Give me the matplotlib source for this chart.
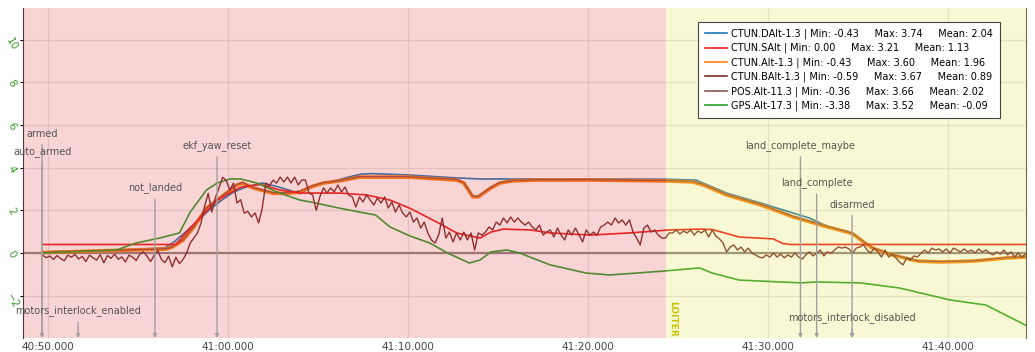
import numpy as np
import matplotlib
matplotlib.use('Agg')
import matplotlib.pyplot as plt
import matplotlib.transforms as mtransforms
from matplotlib.lines import Line2D
from matplotlib.ticker import FuncFormatter, MultipleLocator

# time axis is seconds after 40:50.000
start_sec = 40 * 60 + 50
t_min, t_max = -1.39, 54.33

# flight mode bands
mode_names = ['', 'LOITER']
mode_starts = [t_min, 34.33]
mode_ends = [34.33, t_max]

# events
event_names = ['armed', 'auto_armed', 'motors_interlock_enabled', 'not_landed', 'ekf_yaw_reset',
               'land_complete_maybe', 'land_complete', 'disarmed', 'motors_interlock_disabled']
event_times = [-0.33, -0.33, 1.67, 5.94, 9.39, 41.8, 42.7, 44.67, 44.67]

# CTUN.DAlt
dalt_t = [-0.3, 2, 5, 6.5, 7.0, 7.6, 8.3, 9.0, 9.6, 10.3, 11.0, 11.9, 12.8, 14.0, 14.9, 16.0, 16.7,
          17.4, 18.0, 20.0, 22.7, 24.0, 34.3, 36.0, 37.7, 39.6, 41.4, 42.3, 43.3, 44.4, 44.7, 45.3,
          45.8, 46.9, 48.3, 49.6, 51.4, 53.3, 54.3]
dalt_v = [0.05, 0.1, 0.17, 0.25, 0.52, 0.95, 1.5, 2.05, 2.45, 2.85, 3.1, 3.28, 3.1, 2.78, 3.19, 3.4, 3.56,
          3.70, 3.72, 3.66, 3.52, 3.47, 3.46, 3.42, 2.81, 2.34, 1.87, 1.64, 1.25, 0.98, 0.9, 0.52,
          0.23, -0.09, -0.38, -0.43, -0.38, -0.23, -0.19]

# CTUN.SAlt
salt_t = [-0.3, 7.1, 7.9, 9.4, 10.7, 11.8, 12.9, 14.0, 16.2, 17.7, 19.0, 20.1, 21.6, 22.7, 24.0,
          24.6, 25.3, 26.8, 27.9, 30.1, 32.3, 34.5, 36.2, 36.9, 38.4, 40.3, 40.8, 41.2, 54.3]
salt_v = [0.40, 0.40, 1.17, 2.48, 3.09, 3.21, 2.95, 2.81, 2.81, 2.72, 2.48, 2.10, 1.45, 0.94, 0.70,
          0.98, 1.12, 1.08, 0.94, 0.84, 0.94, 1.08, 1.12, 1.10, 0.75, 0.66, 0.45, 0.40, 0.40]

# CTUN.Alt
alt_t = [-0.3, 2, 5, 6.6, 6.9, 7.5, 8.1, 8.8, 9.4, 9.9, 10.5, 10.8, 11.4, 12.5, 13.3, 14.0, 14.6,
         15.3, 16.2, 17.3, 20.0, 22.7, 23.1, 23.6, 23.9, 24.6, 25.1, 25.8, 27.2, 30, 34.3, 35.8,
         36.4, 37.7, 39.6, 41.4, 43.3, 44.4, 44.7, 45.3, 45.8, 46.9, 48.3, 49.6, 51.4, 53.3, 54.3]
alt_v = [0.02, 0.08, 0.15, 0.19, 0.28, 0.6, 1.22, 2.1, 2.48, 2.8, 3.19, 3.28, 3.05, 2.80, 2.80, 2.86,
         3.1, 3.28, 3.38, 3.56, 3.56, 3.42, 3.28, 2.63, 2.63, 3.05, 3.28, 3.38, 3.42, 3.42, 3.38, 3.33,
         3.19, 2.72, 2.25, 1.69, 1.22, 0.98, 0.90, 0.52, 0.23, -0.09, -0.38, -0.42, -0.38, -0.23, -0.19]

# POS.Alt (same sample times as CTUN.Alt)
pos_v = [0.03, 0.09, 0.16, 0.2, 0.3, 0.62, 1.25, 2.12, 2.5, 2.83, 3.22, 3.3, 3.08, 2.83, 2.83, 2.9,
         3.13, 3.3, 3.4, 3.58, 3.58, 3.45, 3.3, 2.66, 2.66, 3.08, 3.3, 3.4, 3.44, 3.44, 3.4, 3.36,
         3.22, 2.75, 2.28, 1.72, 1.25, 1.0, 0.92, 0.55, 0.25, -0.07, -0.36, -0.4, -0.36, -0.21, -0.17]

# GPS.Alt
gps_t = [-0.3, 3.8, 4.9, 6.2, 7.3, 7.9, 8.8, 9.4, 10.1, 10.7, 11.6, 12.9, 14.0, 14.6, 16.2, 17.3,
         18.2, 19.0, 20.1, 21.2, 22.2, 23.4, 24.0, 24.6, 25.5, 26.2, 27.9, 29.9, 31.2, 32.7, 34.3,
         36.2, 36.9, 38.4, 41.8, 42.7, 45.1, 47.3, 50.1, 52.1, 54.3]
gps_v = [0.0, 0.14, 0.47, 0.70, 0.94, 1.92, 2.95, 3.28, 3.47, 3.47, 3.28, 2.80, 2.48, 2.39, 2.10, 1.92,
         1.78, 1.22, 0.80, 0.47, 0.0, -0.47, -0.33, 0.05, 0.14, 0.0, -0.56, -0.94, -1.03, -0.94, -0.84,
         -0.70, -0.94, -1.27, -1.40, -1.36, -1.40, -1.64, -2.20, -2.44, -3.38]

# CTUN.BAlt, logged every 0.2 s from t = -0.3
balt_t0 = -0.3
balt_dt = 0.2
balt_v = [
    -0.10, -0.22, -0.14, -0.30, -0.12, -0.26, -0.36, -0.10, -0.20, -0.06,
    -0.28, -0.16, -0.40, -0.10, -0.22, -0.33, -0.08, -0.46, -0.12, -0.25,
    -0.05, -0.30, -0.18, -0.42, -0.10, -0.20, -0.35, -0.05, 0.05, -0.15,
    -0.40, -0.10, 0.10, -0.30, -0.45, -0.15, -0.65, -0.20, -0.50,
    -0.30, 0.0, 0.47, 0.7, 0.94, 1.4, 2.2, 2.8, 1.92, 2.6,
    3.05, 3.55, 3.4, 2.95, 3.28, 2.34, 2.5, 1.87, 1.95, 1.69,
    1.88, 1.41, 2.1, 3.28, 3.15, 3.42, 3.28, 3.56, 3.33, 3.56,
    3.28, 3.56, 3.19, 3.42,
    3.42, 2.81, 2.72, 2.0, 2.63, 3.05, 2.81, 3.05, 2.86, 3.19,
    2.86, 3.09, 2.72, 2.63, 2.16, 2.63, 2.39, 2.72, 2.48, 2.25,
    2.58, 2.34, 2.63, 2.11, 2.39, 1.92, 2.25, 1.88, 1.69, 1.92,
    1.45, 1.64, 1.17, 1.45, 0.94, 0.61, 0.47, 0.84, 1.64, 0.70,
    0.98, 0.52, 0.94, 0.61, 0.98, 0.61, 0.94, 0.14, 0.94, 0.84,
    0.98, 1.22, 1.08, 1.45, 1.31, 1.64, 1.41, 1.69, 1.45, 1.64,
    1.45, 1.31, 1.45, 1.22, 1.08, 1.31, 0.84, 0.98, 1.08, 0.75,
    1.17, 0.84, 0.61, 1.08, 0.84, 1.17, 0.84, 0.52, 1.08, 0.84,
    0.98, 0.84, 1.22, 1.31, 1.45, 1.31, 1.64, 1.41, 1.55, 1.31,
    1.55, 0.98, 0.70, 0.38, 1.17, 1.31, 0.98, 1.08, 0.84, 0.70,
    0.70, 0.94,
    0.94, 1.08, 0.89, 1.03, 0.94, 1.08, 0.84, 1.03, 0.94, 1.08,
    0.75, 1.08, 0.80, 0.66, 0.47, 0.05, 0.28, 0.38, 0.14, 0.28,
    0.05, 0.23, 0.0, -0.09, -0.19, -0.23, -0.09, -0.19, 0.0, -0.19,
    -0.05, -0.23, -0.09, -0.19, 0.0, -0.19, -0.28, -0.09, 0.05, -0.14,
    0.0, 0.14, -0.14, 0.05, 0.0, 0.14, 0.28, 0.23, 0.28, 0.19,
    0.0, 0.23, 0.28, 0.38, 0.14, 0.0, 0.23, 0.05, -0.19, 0.14,
    -0.19, -0.05, -0.23, -0.42, -0.56, -0.23, -0.33, -0.14, -0.19, 0.0,
    0.14, 0.0, 0.23, 0.14, 0.19, 0.05, 0.19, 0.0, 0.23, 0.14,
    0.05, 0.19, 0.05, 0.14, 0.0, 0.19, 0.05, 0.14, 0.0, -0.09,
    0.05, -0.05, 0.14, -0.09, 0.05, -0.19, 0.0, -0.19, -0.05,
]
balt_t = balt_t0 + balt_dt * np.arange(len(balt_v))

legend_labels = [
    'CTUN.DAlt-1.3 | Min: -0.43     Max: 3.74     Mean: 2.04',
    'CTUN.SAlt | Min: 0.00     Max: 3.21     Mean: 1.13',
    'CTUN.Alt-1.3 | Min: -0.43     Max: 3.60     Mean: 1.96',
    'CTUN.BAlt-1.3 | Min: -0.59     Max: 3.67     Mean: 0.89',
    'POS.Alt-11.3 | Min: -0.36     Max: 3.66     Mean: 2.02',
    'GPS.Alt-17.3 | Min: -3.38     Max: 3.52     Mean: -0.09',
]
c_dalt, c_salt, c_alt, c_balt, c_pos, c_gps = '#1f77b4', '#ee1c1c', '#ff7f0e', '#7a2c2c', '#8c564b', '#2ca02c'

fig = plt.figure(figsize=(10.35, 3.52), dpi=100)
ax = fig.add_axes([23 / 1035, 14 / 352, 1003 / 1035, 330 / 352])

ax.set_xlim(t_min, t_max)
ax.set_ylim(-3.985, 11.486)

ax.grid(True, color='#e4e4e4', lw=0.9, zorder=0)
ax.set_axisbelow(True)

# zero line with white highlight just above
ax.axhline(0, color='#8c8484', lw=1.6, zorder=1.5)
off = mtransforms.offset_copy(ax.get_yaxis_transform(), fig=fig, x=0, y=2, units='dots')
ax.plot([0, 1], [0, 0], color='white', lw=1.0, transform=off, zorder=1.4)

ax.plot(dalt_t, dalt_v, color=c_dalt, lw=1.2, zorder=2)
ax.plot(alt_t, alt_v, color=c_alt, lw=2.6, zorder=2.1)
ax.plot(alt_t, pos_v, color=c_pos, lw=0.9, zorder=2.2)
ax.plot(salt_t, salt_v, color=c_salt, lw=1.2, zorder=2.3)
ax.plot(gps_t, gps_v, color=c_gps, lw=1.2, zorder=2.4)
ax.plot(balt_t, balt_v, color=c_balt, lw=1.0, zorder=2.5)

# mode shading sits on top of the traces
mode_colors = ['#e03c3c', '#e6e13c']
for s, e, c in zip(mode_starts, mode_ends, mode_colors):
    ax.axvspan(s, e, color=c, alpha=0.22, lw=0, zorder=5)
for name, s in zip(mode_names, mode_starts):
    if name:
        ax.text(s + 0.12, 0.005, name, transform=ax.get_xaxis_transform(), rotation=-90,
                ha='left', va='bottom', fontsize=6.5, fontweight='bold', color='#c8c400', zorder=6)

label_heights = [0.618, 0.564, 0.082, 0.455, 0.582, 0.582, 0.470, 0.403, 0.061]
for name, t, h in zip(event_names, event_times, label_heights):
    ax.annotate(name, xy=(t, 0), xycoords=('data', 'axes fraction'),
                xytext=(t, h), textcoords=('data', 'axes fraction'),
                ha='center', va='center', fontsize=7, color='#555555', zorder=7,
                annotation_clip=False,
                arrowprops=dict(arrowstyle='-|>', color='#a0a0a0', lw=1.0,
                                shrinkA=2, shrinkB=0, mutation_scale=5))

fmt = lambda v, pos: '%02d:%02d.000' % (int((start_sec + v) // 60) % 60, int(round(start_sec + v)) % 60)
ax.xaxis.set_major_locator(MultipleLocator(10))
ax.xaxis.set_major_formatter(FuncFormatter(fmt))
ax.yaxis.set_major_locator(MultipleLocator(2))
ax.tick_params(axis='x', length=0, pad=3, labelsize=7.5, labelcolor='#444444')
ax.tick_params(axis='y', length=2, pad=6, labelsize=7.5, labelcolor='#3a9a2a', labelrotation=-60)
for lab in ax.get_yticklabels():
    lab.set_horizontalalignment('center')

for side in ['top', 'bottom']:
    ax.spines[side].set_visible(False)
ax.spines['left'].set_color('#333333')
ax.spines['right'].set_color('#6e6a40')

handles = [Line2D([], [], color=c, lw=1.2) for c in [c_dalt, c_salt, c_alt, c_balt, c_pos, c_gps]]
leg = ax.legend(handles, legend_labels, loc='upper right', bbox_to_anchor=(0.979, 0.973),
                fontsize=7, frameon=True, fancybox=False, edgecolor='#444444', framealpha=1,
                handlelength=2.2, handletextpad=0.5, labelspacing=0.4, borderpad=0.7)
leg.set_zorder(10)
leg.get_frame().set_linewidth(0.8)

fig.savefig('out.png', dpi=100)
